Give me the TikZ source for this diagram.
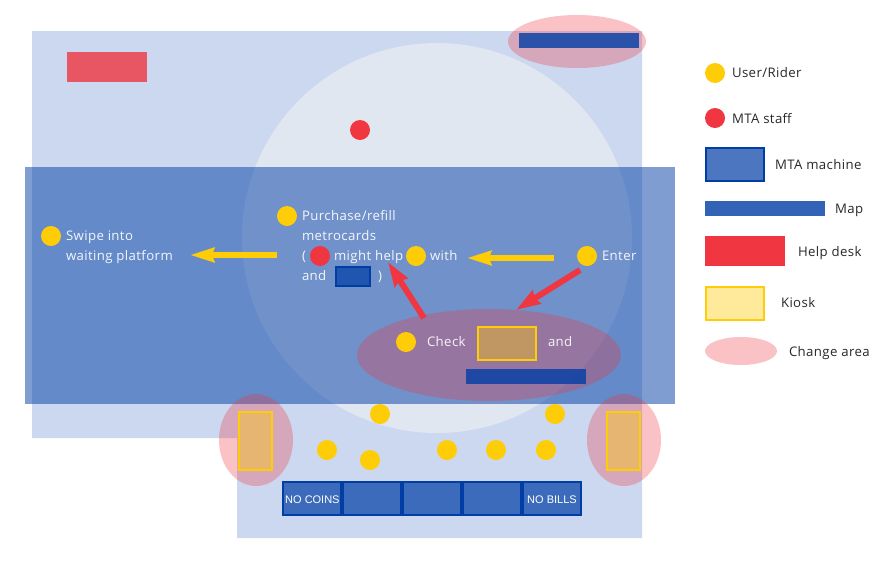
\documentclass[tikz,border=0pt]{standalone}
\usepackage{fontspec}
\setmainfont{Open Sans}[LetterSpace=3]
\newfontfamily\arialfont{Liberation Sans}
\usetikzlibrary{arrows.meta}
\definecolor{mtablue}{RGB}{0,61,165}
\definecolor{sun}{RGB}{255,204,8}
\definecolor{alarm}{RGB}{240,54,64}
\definecolor{floorc}{RGB}{204,216,239}
\definecolor{inktext}{RGB}{40,40,40}
\definecolor{hall}{RGB}{255,253,246}
\tikzset{
  x=1pt,y=-1pt,
  rider/.style={circle,fill=sun,draw=none,minimum size=20pt,inner sep=0pt},
  staff/.style={circle,fill=alarm,draw=none,minimum size=20pt,inner sep=0pt},
  lbl/.style={anchor=base west,inner sep=0pt,outer sep=0pt,font=\fontsize{13.2}{15}\selectfont},
  wl/.style={lbl,text=white,text opacity=.92},
  kl/.style={lbl,text=inktext},
  ml/.style={anchor=base west,inner sep=0pt,text=white,font=\arialfont\fontsize{11}{13}\selectfont},
  machine/.style={draw=mtablue,line width=2pt,fill=mtablue,fill opacity=.7},
  kioskbox/.style={draw=sun,line width=2pt,fill=sun,fill opacity=.4},
  mapbar/.style={fill=mtablue,opacity=.8},
  change/.style={fill=alarm,opacity=.3},
  yarrow/.style={draw=sun,line width=6pt,-{Stealth[length=24pt,width=14pt,inset=2pt]}},
  rarrow/.style={draw=alarm,line width=6pt,-{Stealth[length=24pt,width=15pt,inset=2pt]}},
}
\begin{document}
\begin{tikzpicture}
\useasboundingbox (0,0) rectangle (881,574);
\fill[white] (0,0) rectangle (881,574);
% floor
\fill[floorc] (32,31) -- (642,31) -- (642,538) -- (237,538) -- (237,438) -- (32,438) -- cycle;
% round hall
\fill[hall,opacity=.41] (437,238) circle[radius=195];
% band
\fill[mtablue,opacity=.5] (25,167) rectangle (675,404);
% help desk, staff
\fill[alarm,opacity=.8] (67,52) rectangle (147,82);
\node[staff] (staffA) at (360,130) {};
% change areas
\fill[change] (577,41.5) ellipse[x radius=69,y radius=26.5];
\fill[change] (489,355) ellipse[x radius=132,y radius=46];
\fill[change] (256,440) ellipse[x radius=37,y radius=46];
\fill[change] (624,440) ellipse[x radius=37,y radius=46];
% maps
\fill[mapbar] (519,33) rectangle (639,48);
\fill[mapbar] (466,369) rectangle (586,384);
% kiosks
\draw[kioskbox] (239,412) rectangle (272,470);
\draw[kioskbox] (607,412) rectangle (640,470);
\draw[kioskbox] (478,327) rectangle (536,360);
% machines
\draw[machine] (283,482) rectangle (341,515);
\draw[machine] (343,482) rectangle (401,515);
\draw[machine] (403,482) rectangle (461,515);
\draw[machine] (463,482) rectangle (521,515);
\draw[machine] (523,482) rectangle (581,515);
\node[ml] (nocoins) at (285,503) {NO COINS};
\node[ml] (nobills) at (527,503) {NO BILLS};
% riders
\node[rider] (swipe) at (51,236) {};
\node[rider] (purchase) at (287,216) {};
\node[rider] (with) at (416,256) {};
\node[rider] (enter) at (587,256) {};
\node[rider] (check) at (406,342) {};
\node[rider] (q1) at (380,414) {};
\node[rider] (q2) at (555,414) {};
\node[rider] (q3) at (327,450) {};
\node[rider] (q4) at (370,460) {};
\node[rider] (q5) at (447,450) {};
\node[rider] (q6) at (496,450) {};
\node[rider] (q7) at (546,450) {};
\node[staff] (helper) at (320,256) {};
% text in the band
\node[wl] (t1) at (66,240) {Swipe into};
\node[wl] (t2) at (66,260) {waiting platform};
\node[wl] (t3) at (302,220) {Purchase/refill};
\node[wl] (t4) at (302,240) {metrocards};
\node[wl] (t5) at (302,260) {(};
\node[wl] (t6) at (334,260) {might help};
\node[wl] (t7) at (430,260) {with};
\node[wl] (t8) at (302,280) {and};
\draw[machine] (336,267) rectangle (370,286);
\node[wl] (t9) at (378,280) {)};
\node[wl] (t10) at (602,260) {Enter};
\node[wl] (t11) at (427,346) {Check};
\node[wl] (t12) at (548,346) {and};
% arrows
\coordinate (a1s) at (277,255); \coordinate (a1e) at (190,255);
\coordinate (a2s) at (554,258); \coordinate (a2e) at (467,258);
\coordinate (a3s) at (424,318); \coordinate (a3e) at (388,262);
\coordinate (a4s) at (580,270); \coordinate (a4e) at (516,310);
\draw[yarrow] (a1s) -- (a1e);
\draw[yarrow] (a2s) -- (a2e);
\draw[rarrow] (a3s) -- (a3e);
\draw[rarrow] (a4s) -- (a4e);
% legend
\node[rider] (lg1) at (715,73) {};
\node[staff] (lg2) at (715,118) {};
\draw[machine] (706,148) rectangle (764,181);
\fill[mapbar] (705,201) rectangle (825,216);
\fill[alarm] (705,236) rectangle (785,266);
\draw[kioskbox] (706,287) rectangle (764,320);
\fill[change] (741,351) ellipse[x radius=36,y radius=14];
\node[kl] (l1) at (732,77) {User/Rider};
\node[kl] (l2) at (732,123) {MTA staff};
\node[kl] (l3) at (775,169) {MTA machine};
\node[kl] (l4) at (835,213) {Map};
\node[kl] (l5) at (798,256) {Help desk};
\node[kl] (l6) at (781,307) {Kiosk};
\node[kl] (l7) at (789,356) {Change area};
\end{tikzpicture}
\end{document}
